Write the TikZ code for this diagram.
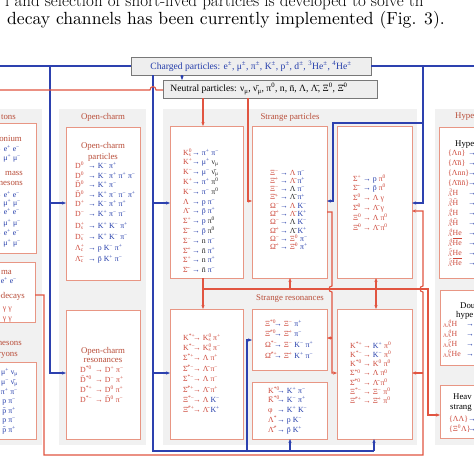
\documentclass[tikz,border=0pt]{standalone}
\usepackage{fontspec}
\newfontfamily\dg{Liberation Serif}
\newfontfamily\lmten{lmroman10-regular.otf}
\usetikzlibrary{arrows.meta,fit}
\definecolor{rtxt}{RGB}{205,72,58}
\definecolor{htxt}{RGB}{185,78,58}
\definecolor{btxt}{RGB}{35,60,170}
\definecolor{ktxt}{RGB}{35,35,35}
\definecolor{bline}{RGB}{45,65,175}
\definecolor{rline}{RGB}{225,85,65}
\definecolor{boxr}{RGB}{232,150,132}
\definecolor{pgray}{RGB}{241,241,241}
\definecolor{tgray}{RGB}{238,238,238}
\definecolor{tbord}{RGB}{120,120,120}
\newcommand\R[1]{\textcolor{rtxt}{#1}}
\newcommand\B[1]{\textcolor{btxt}{#1}}
\newcommand\K[1]{\textcolor{ktxt}{#1}}
\newcommand\up[1]{\textsuperscript{#1}}
\newcommand\dn[1]{\textsubscript{#1}}
\newcommand\sps[2]{\makebox[0pt][l]{\textsuperscript{#1}}\textsubscript{#2}}
\newsavebox\prebx
\newcommand\pre[2]{\sbox\prebx{\textsubscript{#2}}\makebox[\wd\prebx][r]{\textsuperscript{#1}}\kern-\wd\prebx\usebox\prebx}
\newcommand\ovl[1]{\ensuremath{\overline{\hbox{#1}}}}
\begin{document}
\begin{tikzpicture}[x=1pt,y=-1pt,
  panel/.style={fill=pgray, draw=none, inner sep=0pt, outer sep=0pt},
  bx/.style={draw=boxr, line width=0.9pt, fill=white, inner sep=0pt, outer sep=0pt},
  topbox/.style={draw=tbord, line width=0.7pt, fill=tgray, inner sep=0pt, outer sep=0pt},
  rowtxt/.style={font=\dg\fontsize{7.8}{9}\selectfont, inner sep=0pt, anchor=base west},
  frag/.style={font=\dg\fontsize{7.8}{9}\selectfont, inner sep=0pt, anchor=base east},
  hdr/.style={font=\dg\fontsize{8.8}{10.5}\selectfont, text=htxt, inner sep=0pt, anchor=base},
  bl/.style={draw=bline, line width=1.1pt},
  rl/.style={draw=rline, line width=1.1pt},
  arr/.style={-{Stealth[length=4pt,width=3.2pt]}},
  darr/.style={{Stealth[length=4pt,width=3.2pt]}-{Stealth[length=4pt,width=3.2pt]}},
]
\useasboundingbox (0,0) rectangle (474,474);
\clip (0,0) rectangle (474,474);
\fill[white] (0,0) rectangle (474,474);

% paragraph text
\node[anchor=base west, inner sep=0pt, font=\fontsize{17}{20}\selectfont] (p1) at (5,6.5) {l and selection of short-lived particles is developed to solve th};
\node[anchor=base west, inner sep=0pt, font=\lmten\fontsize{17.6}{20}\selectfont] (p2) at (7,24.5) {decay channels has been currently implemented (Fig. 3).};

% panels
\node[panel, fit={(-5,109) (42,445)}] (pL) {};
\node[panel, fit={(59,109) (146,445)}] (pOC) {};
\node[panel, fit={(163,109) (417,445)}] (pS) {};
\node[panel, fit={(435,109) (480,445)}] (pH) {};

% boxes
\node[bx, fit={(-5,123) (36,253)}] (L1) {};
\node[bx, fit={(-5,262) (35,322)}] (L2) {};
\node[bx, fit={(-5,362) (36,439)}] (L3) {};
\node[bx, fit={(66,127) (140,280)}] (OCP) {};
\node[bx, fit={(66,310) (140,439)}] (OCR) {};
\node[bx, fit={(170,126) (243,278)}] (A) {};
\node[bx, fit={(252,126) (327,278)}] (B) {};
\node[bx, fit={(337,126) (412,278)}] (C) {};
\node[bx, fit={(170,309) (243,439)}] (D) {};
\node[bx, fit={(252,309) (327,370)}] (E) {};
\node[bx, fit={(252,382) (327,439)}] (G) {};
\node[bx, fit={(337,309) (412,439)}] (F) {};
\node[bx, fit={(439,127) (480,278)}] (H1) {};
\node[bx, fit={(440,290) (480,365)}] (H2) {};
\node[bx, fit={(440,385) (480,438)}] (H3) {};

% top boxes
\node[topbox, fit={(131,57) (371,75)}] (chg) {};
\node[font=\dg\fontsize{9.6}{11}\selectfont, text=btxt, inner sep=0pt] (chgt) at (251,66) {Charged particles: e\up{±}, μ\up{±}, π\up{±}, K\up{±}, p\up{±}, d\up{±}, \up{3}He\up{±}, \up{4}He\up{±}};
\node[topbox, fit={(163,80) (377,98)}] (neu) {};
\node[font=\dg\fontsize{9.6}{11}\selectfont, inner sep=0pt] (neut) at (259,89) {Neutral particles: ν\dn{μ}, \=ν\dn{μ}, π\up{0}, n, \=n, Λ, \=Λ, Ξ\up{0}, \=Ξ\up{0}};

% helper coordinates
\coordinate (X44) at (44,0); \coordinate (X50) at (50,0); \coordinate (X153) at (153,0);
\coordinate (X182) at (182,0); \coordinate (X203) at (203,0); \coordinate (X247) at (247,0);
\coordinate (X248) at (248,0); \coordinate (X290) at (290,0); \coordinate (X332) at (332,0);
\coordinate (X333) at (333,0); \coordinate (X374) at (374,0); \coordinate (X376) at (376,0);
\coordinate (X423) at (423,0); \coordinate (X428) at (428,0);
\coordinate (Y66) at (0,66); \coordinate (Y90) at (0,90); \coordinate (Y123) at (0,123);
\coordinate (Y201) at (0,201); \coordinate (Y203) at (0,203); \coordinate (Y211) at (0,211);
\coordinate (Y212) at (0,212); \coordinate (Y289) at (0,289); \coordinate (Y295) at (0,295);
\coordinate (Y338) at (0,338); \coordinate (Y340) at (0,340); \coordinate (Y373) at (0,373);
\coordinate (Y415) at (0,415); \coordinate (Y451) at (0,451); \coordinate (Y455) at (0,455);
\coordinate (LE66) at (-5,66); \coordinate (RE66) at (480,66); \coordinate (LE90) at (-5,90);

% blue connectors
\draw[bl] (LE66) -- (chg.west);
\draw[bl] (chg.east) -- (RE66);
\draw[bl,arr] (X50 |- Y66) -- (X50 |- Y373) -- (OCR.west |- Y373);
\draw[bl,arr] (X50 |- Y203) -- (OCP.west |- Y203);
\draw[bl] (chg.south -| X153) -- (X153 |- Y451) -- (X374 |- Y451);
\draw[bl,arr] (X153 |- Y203) -- (A.west |- Y203);
\draw[bl,arr] (X153 |- Y373) -- (D.west |- Y373);
\draw[bl,arr] (X247 |- Y451) -- (X247 |- Y340) -- (E.west |- Y340);
\draw[bl,arr] (X290 |- Y451) -- (G.south -| X290);
\draw[bl,arr] (X374 |- Y451) -- (F.south -| X374);
\draw[bl,arr] (chg.south -| X182) -- (neu.north -| X182);
\draw[bl,arr] (X423 |- Y66) -- (X423 |- Y203) -- (C.east |- Y203);
\draw[bl,arr] (X423 |- Y123) -- (X333 |- Y123) -- (X333 |- Y201) -- (B.east |- Y201);

% red connectors
\draw[rl] (LE90) -- (150,90) .. controls (150,85.5) and (156,85.5) .. (156,90) -- (neu.west |- Y90);
\draw[rl,arr] (neu.south -| X203) -- (A.north -| X203);
\draw[rl,arr] (neu.south -| X248) -- (X248 |- Y201) -- (B.west |- Y201);
\draw[rl,arr] (A.south -| X203) -- (D.north -| X203);
\draw[rl,arr] (X203 |- Y289) -- (X428 |- Y289) -- (X428 |- Y415) -- (H3.west |- Y415);
\draw[rl,arr] (X290 |- Y289) -- (B.south -| X290);
\draw[rl,darr] (C.south -| X376) -- (F.north -| X376);
\draw[rl,arr] (B.east |- Y212) -- (X332 |- Y212) -- (332,286) .. controls (328,286) and (328,292) .. (332,292) -- (X332 |- Y373) -- (F.west |- Y373);
\draw[rl,arr] (X332 |- Y338) -- (E.east |- Y338);
\draw[rl,arr] (L2.east |- Y295) -- (X44 |- Y295) -- (X44 |- Y455) -- (X423 |- Y455) -- (423,292) .. controls (419,292) and (419,286) .. (423,286) -- (X423 |- Y211) -- (C.east |- Y211);
\draw[rl,arr] (X423 |- Y373) -- (F.east |- Y373);

% headers
\node[hdr, anchor=base east] (hLP) at (16,119) {tons};
\node[hdr] (hOC) at (103,119) {Open-charm};
\node[hdr] (hSP) at (290,119) {Strange particles};
\node[hdr] (hSR) at (290,300) {Strange resonances};
\node[hdr, anchor=base west] (hHY) at (455,118) {Hype};

% left column fragments
\node[hdr, anchor=base east] (l1) at (22,141) {onium};
\node[frag, text=btxt] (l2) at (20,151) {→ e\up{+} e\up{−}};
\node[frag, text=btxt] (l3) at (21,160) {→ μ\up{+} μ\up{−}};
\node[hdr, anchor=base east] (l4) at (23,175) {mass};
\node[hdr, anchor=base east] (l5) at (23,185) {mesons};
\node[frag, text=btxt] (l6) at (20,197) {→ e\up{+} e\up{−}};
\node[frag, text=btxt] (l7) at (21,205) {→ μ\up{+} μ\up{−}};
\node[frag, text=btxt] (l8) at (20,214) {→ e\up{+} e\up{−}};
\node[frag, text=btxt] (l9) at (21,225) {→ μ\up{+} μ\up{−}};
\node[frag, text=btxt] (l10) at (20,235) {→ e\up{+} e\up{−}};
\node[frag, text=btxt] (l11) at (21,245) {→ μ\up{+} μ\up{−}};
\node[hdr, anchor=base east] (g1) at (12,274) {ma};
\node[frag, text=btxt] (g2) at (17,283) {→ e\up{+} e\up{−}};
\node[hdr, anchor=base east] (g3) at (25,298) {-decays};
\node[frag, text=rtxt] (g4) at (12,310) {γ γ};
\node[frag, text=rtxt] (g5) at (12,320) {γ γ};
\node[hdr, anchor=base east] (m1) at (22,345) {nesons};
\node[hdr, anchor=base east] (m2) at (18,356) {ryons};
\node[frag, text=btxt] (m3) at (18,374) {μ\up{+} ν\dn{μ}};
\node[frag, text=btxt] (m4) at (18,384) {μ\up{−} \=ν\dn{μ}};
\node[frag, text=btxt] (m5) at (18,394) {π\up{+} π\up{−}};
\node[frag, text=btxt] (m6) at (16,403) {p π\up{−}};
\node[frag, text=btxt] (m7) at (16,413) {\=p π\up{+}};
\node[frag, text=btxt] (m8) at (16,422) {p π\up{−}};
\node[frag, text=btxt] (m9) at (16,432) {\=p π\up{+}};

% open charm
\node[hdr] (t1) at (103,148) {Open-charm};
\node[hdr] (t2) at (103,159) {particles};
\foreach \yy/\pa/\pr [count=\i from 0] in {
 168/{D\up{0}}/{→ K\up{−} π\up{+}},
 178/{D\up{0}}/{→ K\up{−} π\up{+} π\up{+} π\up{−}},
 187/{\=D\up{0}}/{→ K\up{+} π\up{−}},
 197/{\=D\up{0}}/{→ K\up{+} π\up{−} π\up{−} π\up{+}},
 206/{D\up{+}}/{→ K\up{−} π\up{+} π\up{+}},
 216/{D\up{−}}/{→ K\up{+} π\up{−} π\up{−}},
 228/{D\sps{+}{s}}/{→ K\up{+} K\up{−} π\up{+}},
 239.5/{D\sps{−}{s}}/{→ K\up{+} K\up{−} π\up{−}},
 250.5/{Λ\sps{+}{c}}/{→ p K\up{−} π\up{+}},
 261.5/{\=Λ\sps{−}{c}}/{→ \=p K\up{+} π\up{−}}}
 {\node[rowtxt] (oc\i) at (75,\yy) {\makebox[13pt][l]{\R{\pa}}\B{\pr}};}
\node[hdr] (t3) at (103,353) {Open-charm};
\node[hdr] (t4) at (103,362) {resonances};
\foreach \pa/\pr [count=\i from 0] in {
 {D\up{*0}}/{→ D\up{+} π\up{−}},
 {\=D\up{*0}}/{→ D\up{−} π\up{+}},
 {D\up{*+}}/{→ D\up{0} π\up{+}},
 {D\up{*−}}/{→ \=D\up{0} π\up{−}}}
 {\node[rowtxt, text=rtxt] (or\i) at (80,{372+10*\i}) {\makebox[15pt][l]{\pa}\pr};}

% box A
\foreach \pa/\pr [count=\i from 0] in {
 {K\sps{0}{s}}/{\B{→ π\up{+} π\up{−}}},
 {K\up{+}}/{\B{→ μ\up{+}} \K{ν\dn{μ}}},
 {K\up{−}}/{\B{→ μ\up{−}} \K{\=ν\dn{μ}}},
 {K\up{+}}/{\B{→ π\up{+}} \K{π\up{0}}},
 {K\up{−}}/{\B{→ π\up{−}} \K{π\up{0}}},
 {Λ}/{\B{→ p π\up{−}}},
 {\=Λ}/{\B{→ \=p π\up{+}}},
 {Σ\up{+}}/{\B{→ p} \K{π\up{0}}},
 {\=Σ\up{−}}/{\B{→ \=p} \K{π\up{0}}},
 {Σ\up{−}}/{\B{→} \K{n} \B{π\up{−}}},
 {\=Σ\up{+}}/{\B{→} \K{\=n} \B{π\up{+}}},
 {Σ\up{+}}/{\B{→} \K{n} \B{π\up{+}}},
 {\=Σ\up{−}}/{\B{→} \K{\=n} \B{π\up{−}}}}
 {\node[rowtxt] (a\i) at (183,{155+9.8*\i}) {\makebox[9pt][l]{\R{\pa}}\pr};}

% box B
\foreach \pa/\pr [count=\i from 0] in {
 {Ξ\up{−}}/{\B{→} \R{Λ} \B{π\up{−}}},
 {\=Ξ\up{+}}/{\B{→} \R{\=Λ} \B{π\up{+}}},
 {Ξ\up{−}}/{\B{→} \K{Λ} \B{π\up{−}}},
 {\=Ξ\up{+}}/{\B{→} \K{\=Λ} \B{π\up{+}}},
 {Ω\up{−}}/{\B{→} \R{Λ} \B{K\up{−}}},
 {\=Ω\up{+}}/{\B{→} \R{\=Λ} \B{K\up{+}}},
 {Ω\up{−}}/{\B{→} \K{Λ} \B{K\up{−}}},
 {\=Ω\up{+}}/{\B{→} \K{\=Λ} \B{K\up{+}}},
 {Ω\up{−}}/{\B{→} \R{Ξ\up{0}} \B{π\up{−}}},
 {\=Ω\up{+}}/{\B{→} \R{\=Ξ\up{0}} \B{π\up{+}}}}
 {\node[rowtxt] (b\i) at (270,{175+8.3*\i}) {\makebox[10pt][l]{\R{\pa}}\pr};}

% box C
\foreach \pa/\pr [count=\i from 0] in {
 {Σ\up{+}}/{\B{→ p} \R{π\up{0}}},
 {\=Σ\up{−}}/{\B{→ \=p} \R{π\up{0}}},
 {Σ\up{0}}/{\R{→ Λ γ}},
 {\=Σ\up{0}}/{\R{→ \=Λ γ}},
 {Ξ\up{0}}/{\R{→ Λ π\up{0}}},
 {\=Ξ\up{0}}/{\R{→ \=Λ π\up{0}}}}
 {\node[rowtxt] (c\i) at (353,{181+9.8*\i}) {\makebox[10pt][l]{\R{\pa}}\pr};}

% box D
\foreach \pa/\pr [count=\i from 0] in {
 {K\up{*+}}/{→ K\sps{0}{s} π\up{+}},
 {K\up{*−}}/{→ K\sps{0}{s} π\up{−}},
 {Σ\up{*+}}/{→ Λ π\up{+}},
 {\=Σ\up{*−}}/{→ \=Λ π\up{−}},
 {Σ\up{*−}}/{→ Λ π\up{−}},
 {\=Σ\up{*+}}/{→ \=Λ π\up{+}},
 {Ξ\up{*−}}/{→ Λ \B{K\up{−}}},
 {\=Ξ\up{*+}}/{→ \=Λ \B{K\up{+}}}}
 {\node[rowtxt, text=rtxt] (d\i) at (183,{340+10.4*\i}) {\makebox[10pt][l]{\pa}\pr};}

% box E
\foreach \pa/\pr [count=\i from 0] in {
 {Ξ\up{*0}}/{\B{→} \R{Ξ\up{−}} \B{π\up{+}}},
 {\=Ξ\up{*0}}/{\B{→} \R{\=Ξ\up{+}} \B{π\up{−}}},
 {Ω\up{*−}}/{\B{→} \R{Ξ\up{−}} \B{K\up{−} π\up{+}}},
 {\=Ω\up{*+}}/{\B{→} \R{\=Ξ\up{+}} \B{K\up{+} π\up{−}}}}
 {\node[rowtxt] (e\i) at (265,{326+10.7*\i}) {\makebox[9pt][l]{\R{\pa}}\pr};}

% box G
\foreach \pa/\pr [count=\i from 0] in {
 {K\up{*0}}/{→ K\up{+} π\up{−}},
 {\=K\up{*0}}/{→ K\up{−} π\up{+}},
 {φ}/{→ K\up{+} K\up{−}},
 {Λ\up{*}}/{→ p K\up{−}},
 {\=Λ\up{*}}/{→ \=p K\up{+}}}
 {\node[rowtxt] (gg\i) at (268,{393+9.8*\i}) {\makebox[9pt][l]{\R{\pa}}\B{\pr}};}

% box F
\foreach \pa/\pr [count=\i from 0] in {
 {K\up{*+}}/{→ \B{K\up{+}} π\up{0}},
 {K\up{*−}}/{→ \B{K\up{−}} π\up{0}},
 {K\up{*0}}/{→ K\up{0} π\up{0}},
 {Σ\up{*0}}/{→ Λ π\up{0}},
 {\=Σ\up{*0}}/{→ \=Λ π\up{0}},
 {Ξ\up{*−}}/{→ Ξ\up{−} π\up{0}},
 {\=Ξ\up{*+}}/{→ \=Ξ\up{+} π\up{0}}}
 {\node[rowtxt, text=rtxt] (f\i) at (350,{348+9.3*\i}) {\makebox[13pt][l]{\pa}\pr};}

% hypernuclei
\node[hdr, text=black, anchor=base west] (h1t) at (455,146) {Hype};
\foreach \pa [count=\i from 0] in {
 {\{Λn\}}, {\{\=Λ\=n\}}, {\{Λnn\}}, {\{\=Λ\=n\=n\}},
 {\pre{3}{Λ}H}, {\pre{3}{\=Λ}\=H}, {\pre{4}{Λ}H}, {\pre{4}{\=Λ}\=H},
 {\pre{4}{Λ}He}, {\pre{4}{\=Λ}\ovl{He}}, {\pre{5}{Λ}He}, {\pre{5}{\=Λ}\ovl{He}}}
 {\node[rowtxt] (hy\i) at (448,{155+10*\i}) {\makebox[20pt][l]{\R{\pa}}\B{→}};}
\node[hdr, text=black, anchor=base west] (h2a) at (460,308) {Dou};
\node[hdr, text=black, anchor=base west] (h2b) at (456,317) {hype};
\foreach \pa [count=\i from 0] in {
 {\pre{4}{ΛΛ}H}, {\pre{4}{ΛΛ}H}, {\pre{5}{ΛΛ}H}, {\pre{6}{ΛΛ}He}}
 {\node[rowtxt] (hd\i) at (443,{326+10*\i}) {\makebox[23pt][l]{\R{\pa}}\B{→}};}
\node[hdr, text=black, anchor=base west] (h3a) at (453,399) {Heav};
\node[hdr, text=black, anchor=base west] (h3b) at (450,409) {strang};
\node[rowtxt] (hs0) at (449,421) {\makebox[19pt][l]{\R{\{ΛΛ\}}}\B{→}};
\node[rowtxt] (hs1) at (449,431) {\makebox[19pt][l]{\R{\{Ξ\up{0}Λ\}}}\B{→}};
\end{tikzpicture}
\end{document}
